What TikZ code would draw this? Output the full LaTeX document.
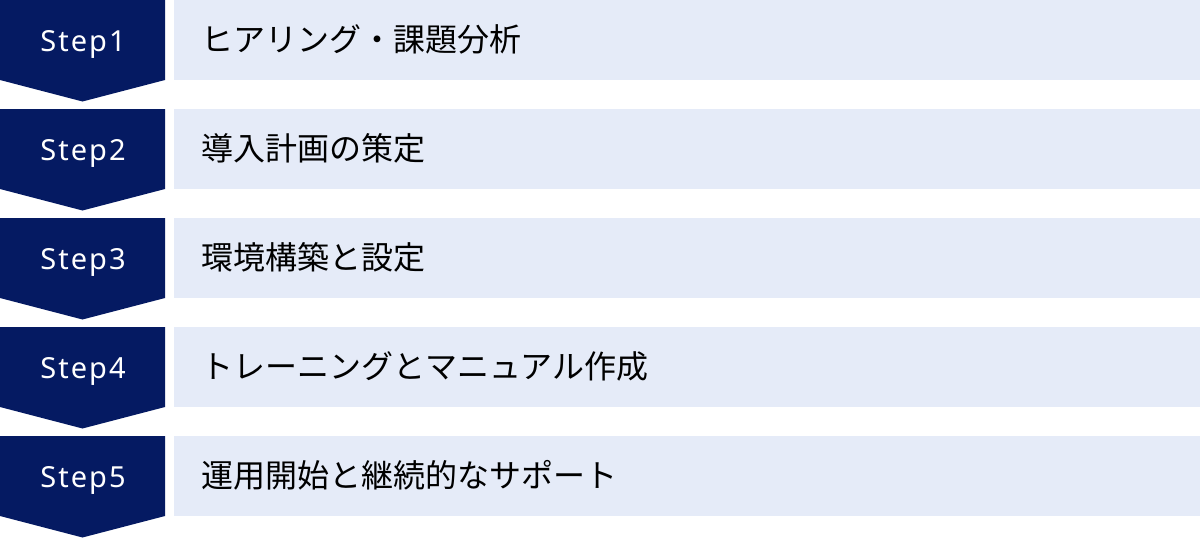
\documentclass[tikz,border=0pt]{standalone}
\usepackage{fontspec}
\setmainfont{Noto Sans}
\newfontfamily\jp{Noto Sans CJK JP}
\definecolor{navy}{HTML}{051A62}
\definecolor{pale}{HTML}{E5EBF8}
\begin{document}
\begin{tikzpicture}[x=1pt,y=-1pt,
  chev/.style={fill=navy},
  bar/.style={fill=pale},
  steplabel/.style={text=white,font=\fontsize{29}{32}\selectfont\addfontfeature{LetterSpace=7},anchor=base,inner sep=0pt},
  tasklabel/.style={text=black,font=\jp\fontsize{32}{36}\selectfont,anchor=base west,inner sep=0pt}]
\useasboundingbox (0,0) rectangle (1200,538);
\foreach \i/\t in {1/{ヒアリング・課題分析},2/{導入計画の策定},3/{環境構築と設定},4/{トレーニングとマニュアル作成},5/{運用開始と継続的なサポート}}{
  \pgfmathsetmacro{\top}{109*(\i-1)}
  \fill[chev] (0,\top) -- (165,\top) -- (165,\top+80) -- (82.5,\top+101.5) -- (0,\top+80) -- cycle;
  \fill[bar] (174,\top) rectangle (1200,\top+80);
  \node[steplabel] (s\i) at (83,\top+51) {Step\i};
  \node[tasklabel] (t\i) at (201,\top+51) {\t};
}
\end{tikzpicture}
\end{document}
